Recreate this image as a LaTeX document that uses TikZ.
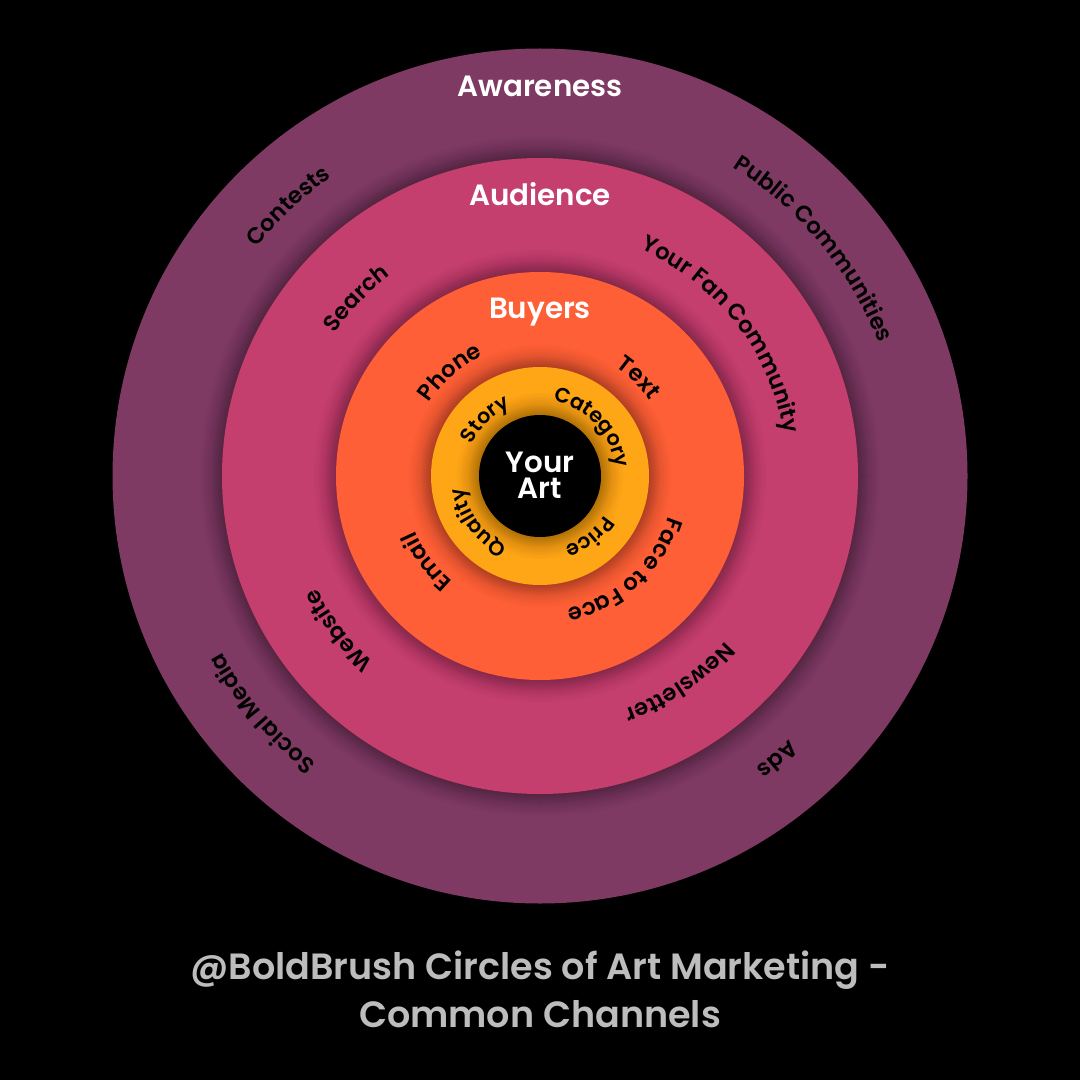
\documentclass[tikz,border=0pt]{standalone}
\usepackage{fontspec}
\setmainfont{Poppins}
\newfontfamily\semiface{Poppins SemiBold}
\usetikzlibrary{decorations.text}
\definecolor{awarenesscol}{HTML}{7E3A62}
\definecolor{audiencecol}{HTML}{C43F6E}
\definecolor{buyerscol}{HTML}{FF5F36}
\definecolor{pricecol}{HTML}{FFA617}
\definecolor{captioncol}{HTML}{BDBDBD}
\tikzset{every picture/.style={line width=0.75pt}}
\tikzset{
  ringtitle/.style={anchor=base,inner sep=0.75pt,text=white,font=\semiface\fontsize{22}{24}\selectfont},
  caption/.style={anchor=base,inner sep=0.75pt,text=captioncol,font=\semiface\fontsize{27.4}{30}\selectfont},
}
% font size, radius, middle angle, text
\newcommand{\arclabel}[4][17]{
\path [decorate,decoration={text along path,text align=center,text={|\semiface\fontsize{#1}{18}\selectfont|#4}}]
  ([shift={(540,476)}]#3-90:#2) arc [start angle=#3-90,end angle=#3+90,radius=#2] ;
}
% radius, colour
\newcommand{\ringdisc}[2]{
\foreach \s in {22,19,17,15,13,11,10,9,8,7,6,5,4,3,2,1} {
  \fill [black,opacity=0.018] (c) circle [radius=#1+\s] ;
}
\fill [#2] (c) circle [radius=#1] ;
}

\begin{document}
\begin{tikzpicture}[x=0.75pt,y=0.75pt,yscale=-1,xscale=1]
\useasboundingbox (0,0) rectangle (1080,1080);
\fill [black] (0,0) rectangle (1080,1080);
\coordinate (c) at (540,476);
\ringdisc{427.5}{awarenesscol}
\ringdisc{318}{audiencecol}
\ringdisc{204}{buyerscol}
\ringdisc{109}{pricecol}
\ringdisc{61}{black}

\arclabel{364}{-133}{Contests}
\arclabel{364}{-39.7}{Public Communities}
\arclabel{363}{50}{Ads}
\arclabel{364}{139.5}{Social Media}

\arclabel{250}{-136}{Search}
\arclabel{248}{-38}{Your Fan Community}
\arclabel{248}{56}{Newsletter}
\arclabel{250}{142.5}{Website}

\arclabel{133}{-131}{Phone}
\arclabel{133}{-45}{Text}
\arclabel{135}{48}{Face to Face}
\arclabel{137}{143}{Email}

\arclabel[15.5]{75}{-134}{Story}
\arclabel[15.5]{76}{-43}{Category}
\arclabel[15.5]{75}{51}{Price}
\arclabel[15.5]{77}{143}{Quality}

\node [ringtitle] (awareness) at (540,97) {Awareness};
\node [ringtitle] (audience) at (540,206) {Audience};
\node [ringtitle] (buyers) at (540,318) {Buyers};
\node [ringtitle] (your) at (540,472) {Your};
\node [ringtitle] (art) at (540,498) {Art};
\node [caption] (captionone) at (540,979) {@BoldBrush Circles of Art Marketing -};
\node [caption] (captiontwo) at (540,1027) {Common Channels};
\end{tikzpicture}
\end{document}
